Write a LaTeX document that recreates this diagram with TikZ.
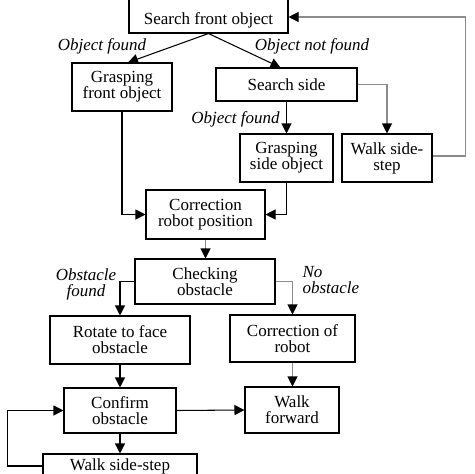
\documentclass[tikz,border=0pt]{standalone}
\usepackage{fontspec}
\setmainfont{Liberation Serif}
\usetikzlibrary{arrows.meta,positioning,calc}

\begin{document}
\begin{tikzpicture}[x=0.03cm,y=-0.03cm,line width=0.9pt,
 >={Triangle[length=3mm,width=3mm,color=black]},
 font=\fontsize{14.5}{13.7}\selectfont,
 blk/.style={draw,inner sep=0pt,align=center},
 lbl/.style={font=\fontsize{14.5}{13.7}\selectfont\itshape,align=center,inner sep=0pt},
 gry/.style={draw=black!45}]
\useasboundingbox (0,0) rectangle (474,474);
% object search
\node[blk,minimum width=159*0.03cm,minimum height=42*0.03cm] (sfo) at (208.5,12) {\raisebox{-3.6mm}[0pt][0pt]{Search front object}};
\node[blk,minimum width=100*0.03cm,minimum height=48*0.03cm] (gfo) at (122,87) {Grasping\\front object};
\node[blk,minimum width=141*0.03cm,minimum height=33*0.03cm] (ssd) at (286.5,84.5) {Search side};
\node[blk,minimum width=93*0.03cm,minimum height=48*0.03cm] (gso) at (286.5,158) {Grasping\\side object};
\node[blk,minimum width=90*0.03cm,minimum height=48*0.03cm] (wss) at (387,158) {Walk side-\\step};
\node[lbl] (lb1) at (102,46) {Object found};
\node[lbl] (lb2) at (312,46) {Object not found};
\node[lbl] (lb3) at (235.5,119) {Object found};
\draw[->] (sfo.south) -- ($(gfo.north)+(6,0)$);
\draw[->] (sfo.south) -- ($(ssd.north)+(-6,0)$);
\draw[->,gry] (ssd.east) -| (wss.north);
\draw[->] (ssd.south) -- (gso.north);
\draw[->,gry] ($(wss.east)+(0,-2)$) -- ++(33,0) |- ($(sfo.east)+(0,5)$);
% robot position and obstacle
\node[blk,minimum width=119*0.03cm,minimum height=49*0.03cm] (crp) at (205.5,214.5) {Correction\\robot position};
\node[blk,minimum width=140*0.03cm,minimum height=45*0.03cm] (chk) at (205,281.5) {Checking\\obstacle};
\node[blk,minimum width=140*0.03cm,minimum height=48*0.03cm] (rot) at (120,340) {Rotate to face\\obstacle};
\node[blk,minimum width=125*0.03cm,minimum height=47*0.03cm] (cor) at (292.5,338.5) {Correction of\\robot};
\node[lbl] (lb4) at (86,284.5) {Obstacle\\found};
\node[lbl,align=left,anchor=west] (lb5) at (302,280) {No\\obstacle};
\draw[->] (gfo.south) |- (crp.west);
\draw[->] (gso.south) |- (crp.east);
\draw[->,gry] (crp.south) -- (crp.south |- chk.north);
\draw[->] (chk.west) -| (rot.north);
\draw[->,gry] (chk.east) -| (cor.north);
% confirm and walk
\node[blk,minimum width=112*0.03cm,minimum height=45*0.03cm] (cnf) at (120,410.5) {Confirm\\obstacle};
\node[blk,minimum width=94*0.03cm,minimum height=46*0.03cm] (wfw) at (292,410) {Walk\\forward};
\node[blk,minimum width=154*0.03cm,minimum height=40*0.03cm] (wsb) at (120,474) {\raisebox{1.2mm}[0pt][0pt]{Walk side-step}};
\draw[->] (rot.south) -- (cnf.north);
\draw[->,gry] (cor.south) -- (cor.south |- wfw.north);
\draw[->] (cnf.east) -- (wfw.west);
\draw[->] (cnf.south) -- (wsb.north);
\draw[->] ($(wsb.west)+(0,-8)$) -- ++(-35,0) |- (cnf.west);
\end{tikzpicture}
\end{document}
